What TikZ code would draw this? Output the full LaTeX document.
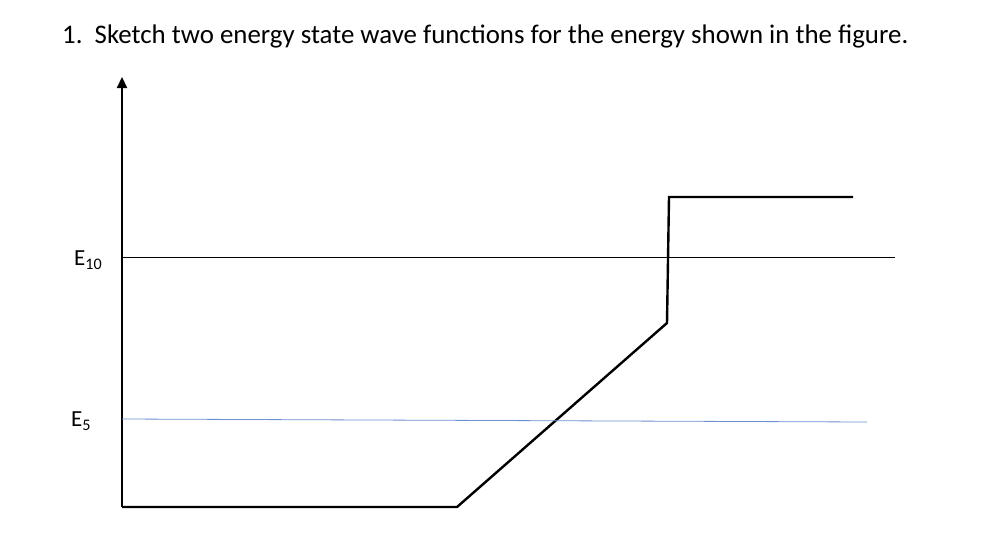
\documentclass[tikz,border=0pt]{standalone}
\usepackage{fontspec}
\setmainfont{Carlito}
\usetikzlibrary{arrows.meta}
\begin{document}
\begin{tikzpicture}[x=1pt,y=-1pt,
  pot/.style={line width=2.4pt,line join=miter},
  lbl/.style={font=\fontsize{23}{26}\selectfont,inner sep=0pt}]
\useasboundingbox (0,0) rectangle (992,546);
\node[anchor=west,inner sep=0pt] (title) at (62,36) {\resizebox{846pt}{!}{\fontsize{21}{25}\selectfont 1.\ \ Sketch two energy state wave functions for the energy shown in the figure.}};
\coordinate (o) at (122,507);
\coordinate (top) at (122,77);
\draw[line width=2.2pt,-{Triangle[length=11pt,width=10pt]}] (o) -- (top);
\coordinate (a) at (457,507);
\coordinate (b) at (667,323);
\coordinate (c) at (669,197);
\coordinate (d) at (853,197);
\draw[pot] (o) -- (a) -- (b) -- (c) -- (d);
\coordinate (e10a) at (122,257);
\coordinate (e10b) at (895,257);
\draw[line width=0.6pt] (e10a) -- (e10b);
\coordinate (e5a) at (122,419);
\coordinate (e5b) at (867,422);
\draw[line width=0.8pt,color=cyan!40!blue!60] (e5a) -- (e5b);
\node[lbl,anchor=west] (l10) at (74,260) {E\textsubscript{10}};
\node[lbl,anchor=west] (l5) at (71,421) {E\textsubscript{5}};
\end{tikzpicture}
\end{document}
